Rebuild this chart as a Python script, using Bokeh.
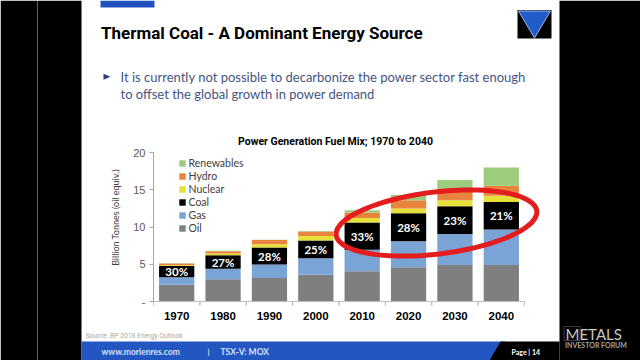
import numpy as np
from bokeh.plotting import figure
from bokeh.models import (FactorRange, Range1d, FixedTicker, Legend, LegendItem, Label,
                          BoxAnnotation, PolyAnnotation, ColumnDataSource)
from bokeh.transform import dodge
from bokeh.core.properties import value
from bokeh.embed import file_html
from bokeh.resources import INLINE

# ---------------- data ----------------
years = ["1970", "1980", "1990", "2000", "2010", "2020", "2030", "2040"]
oil = [2.25, 3.0, 3.15, 3.6, 4.05, 4.6, 4.9, 4.9]
gas = [1.0, 1.4, 1.8, 2.2, 2.9, 3.5, 4.15, 4.75]
coal = [1.5, 1.8, 2.3, 2.4, 3.65, 3.75, 3.75, 3.7]
nuclear = [0.1, 0.25, 0.45, 0.6, 0.6, 0.65, 0.8, 0.85]
hydro = [0.25, 0.3, 0.55, 0.6, 0.75, 1.1, 1.25, 1.35]
renewables = [0.02, 0.05, 0.05, 0.05, 0.3, 0.7, 1.45, 2.45]
coal_share = ["30%", "27%", "28%", "25%", "33%", "28%", "23%", "21%"]
fuels = ["Oil", "Gas", "Coal", "Nuclear", "Hydro", "Renewables"]
y_ticks = [0, 5, 10, 15, 20]
y_max = 20

# ---------------- styles / layout ----------------
colors = ["#7f7f7f", "#7ba4d6", "#000000", "#e6e03a", "#e8843e", "#9ccc7e"]
COND = "Roboto"
W, H = 640, 360
CL, CR, CB, CT = 153, 524, 301, 152     # chart area (page px)
FRAME_L = (CL + CR) / 2 - (W - (CL + CR) / 2)   # frame symmetric about chart centre
px_per_cat = (CR - CL) / len(years)
pad_units = ((W - FRAME_L) / px_per_cat - len(years)) / 2
px_per_y = (CB - CT) / y_max
TICK = 4 / px_per_y


def sx(X):
    return X - FRAME_L


def sy(Y):
    return H - Y


source = ColumnDataSource(dict(years=years, Oil=oil, Gas=gas, Coal=coal, Nuclear=nuclear,
                               Hydro=hydro, Renewables=renewables, pct=coal_share,
                               mid=[o + g + c / 2 for o, g, c in zip(oil, gas, coal)]))

p = figure(x_range=FactorRange(factors=years, range_padding=pad_units * 2 / len(years)),
           y_range=Range1d(-(H - CB) / px_per_y, y_max + CT / px_per_y),
           width=W, height=H, output_backend="svg", toolbar_location=None,
           min_border_left=int(round(FRAME_L)), min_border_right=0,
           min_border_top=0, min_border_bottom=0)
p.border_fill_color = "black"
p.background_fill_color = "white"
p.outline_line_color = None
p.xgrid.grid_line_color = None
p.ygrid.grid_line_color = None


def box(X0, X1, Y0, Y1, color, level="underlay", **kw):
    p.add_layout(BoxAnnotation(left=sx(X0), right=sx(X1), top=sy(Y0), bottom=sy(Y1),
                               left_units="screen", right_units="screen",
                               top_units="screen", bottom_units="screen",
                               fill_color=color, fill_alpha=1 if color else 0,
                               line_color=kw.pop("line_color", None), level=level, **kw))


def poly(pts, color, level="underlay", **kw):
    p.add_layout(PolyAnnotation(xs=[sx(a) for a, b in pts], ys=[sy(b) for a, b in pts],
                                xs_units="screen", ys_units="screen",
                                fill_color=color, fill_alpha=1 if color else 0,
                                line_color=kw.pop("line_color", None), line_alpha=1,
                                level=level, **kw))


# slide frame
box(0, 81, 0, H, "black")
box(559, W, 0, H, "black")
box(100, 154, 0, 7, "#2352c0")
box(81, 505, 341, H, "#2456c2")
poly([(500, 341), (559, 341), (559, H), (489, H)], "black")
# logo top right
box(517, 551, 9.5, 38, "black")
poly([(518, 10.5), (550, 10.5), (534, 37.5)], "#215cc8", line_color="#9db8e8", line_width=1)

# bars
renderers = p.vbar_stack(fuels, x="years", width=0.76, source=source,
                         fill_color=colors, line_color=None)

legend = Legend(items=[LegendItem(label=f, renderers=[r])
                       for f, r in reversed(list(zip(fuels, renderers)))],
                location=(sx(177.5), sy(234.5)), orientation="vertical",
                margin=0, padding=0, spacing=0,
                label_height=13, glyph_height=8, glyph_width=8, label_standoff=3,
                label_text_font="Lato", label_text_font_size="10.5px",
                label_text_color="#404040",
                background_fill_alpha=0, border_line_color=None)
p.add_layout(legend)

p.text(x="years", y="mid", text="pct", source=source, text_color="white",
       text_font=value("Lato"), text_font_style="bold", text_font_size="11.5px",
       text_align="center", text_baseline="middle")

# category boundary ticks on the x axis
for off in (-0.5, 0.5):
    p.segment(x0=dodge("years", off, range=p.x_range), x1=dodge("years", off, range=p.x_range),
              y0=0, y1=-TICK, source=source, line_color="#bfbfbf", line_width=1)

# axes (drawn at fixed data locations inside the frame)
p.xaxis.fixed_location = 0
p.xaxis.bounds = (0, len(years))
p.xaxis.axis_line_color = "#bfbfbf"
p.xaxis.major_tick_line_color = None
p.xaxis.major_label_standoff = 4
p.xaxis.major_label_text_font = "Liberation Sans"
p.xaxis.major_label_text_font_style = "bold"
p.xaxis.major_label_text_font_size = "11.5px"
p.xaxis.major_label_text_color = "black"

p.yaxis.fixed_location = 0
p.yaxis.bounds = (0, y_max)
p.yaxis.ticker = FixedTicker(ticks=y_ticks)
p.yaxis.major_label_overrides = {0: "-"}
p.yaxis.axis_line_color = "#a6a6a6"
p.yaxis.major_tick_line_color = "#a6a6a6"
p.yaxis.minor_tick_line_color = None
p.yaxis.major_tick_in = 0
p.yaxis.major_tick_out = 4
p.yaxis.major_label_standoff = 4
p.yaxis.major_label_text_font = "Liberation Sans"
p.yaxis.major_label_text_font_size = "11px"
p.yaxis.major_label_text_color = "#595959"


def label(X, Y, text, size, font=COND, style="normal", color="black",
          align="left", baseline="middle", angle=0.0):
    p.add_layout(Label(x=sx(X), y=sy(Y), x_units="screen", y_units="screen", text=text,
                       text_font=font, text_font_style=style, text_font_size=size,
                       text_color=color, text_align=align, text_baseline=baseline,
                       angle=angle))


label(335, 140.5, "Power Generation Fuel Mix; 1970 to 2040", "10.5px", style="bold",
      align="center")
label(115, 217, "Billion Tonnes (oil equiv.)", "9px", font="Lato", color="#404040",
      align="center", angle=np.pi / 2)

# slide texts
label(100.5, 32.3, "Thermal Coal - A Dominant Energy Source", "17px", style="bold",
      baseline="alphabetic")
poly([(103, 73.3), (103, 79.3), (110, 76.3)], "#2b3f80", level="annotation")
label(120, 76.5, "It is currently not possible to decarbonize the power sector fast enough",
      "13px", font="Lato", color="#46557f")
label(120, 93.5, "to offset the global growth in power demand", "13px", font="Lato",
      color="#46557f")
label(85, 335, "Source: BP 2018 Energy Outlook", "6.8px", color="#a6a6a6")
label(101, 351, "www.morienres.com", "8.5px", font="Lato", style="bold", color="#d8e2f6")
label(207, 351, "|", "8px", font="Lato", style="bold", color="#d8e2f6")
label(220, 351, "TSX-V: MOX", "8.5px", font="Lato", style="bold", color="#d8e2f6")
label(511, 351.5, "Page | 14", "7px", font="Lato", style="bold", color="white")

# Metals Investor Forum logo
box(563.5, 579.5, 326, 340, None, level="annotation", line_color="#c8c8c8", line_width=1)
label(565, 333.5, "METALS", "15px", font="Lato", color="#c8c8c8")
label(564.5, 344, "INVESTOR FORUM", "7px", font="Lato", style="bold", color="#a0a0a0")

# red highlight ellipse
t = np.linspace(0, 2 * np.pi, 120)
th = np.deg2rad(6.9)
ea, eb, ecx, ecy = 101, 31, 436, 222.5
ex = sx(ecx) + ea * np.cos(t) * np.cos(th) - eb * np.sin(t) * np.sin(th)
ey = sy(ecy) + ea * np.cos(t) * np.sin(th) + eb * np.sin(t) * np.cos(th)
p.add_layout(PolyAnnotation(xs=list(ex), ys=list(ey), xs_units="screen", ys_units="screen",
                            fill_alpha=0, line_color="#e31d1d", line_alpha=1, line_width=5,
                            level="overlay"))

open("out.html", "w").write(file_html(p, INLINE, title="Thermal Coal - A Dominant Energy Source"))
